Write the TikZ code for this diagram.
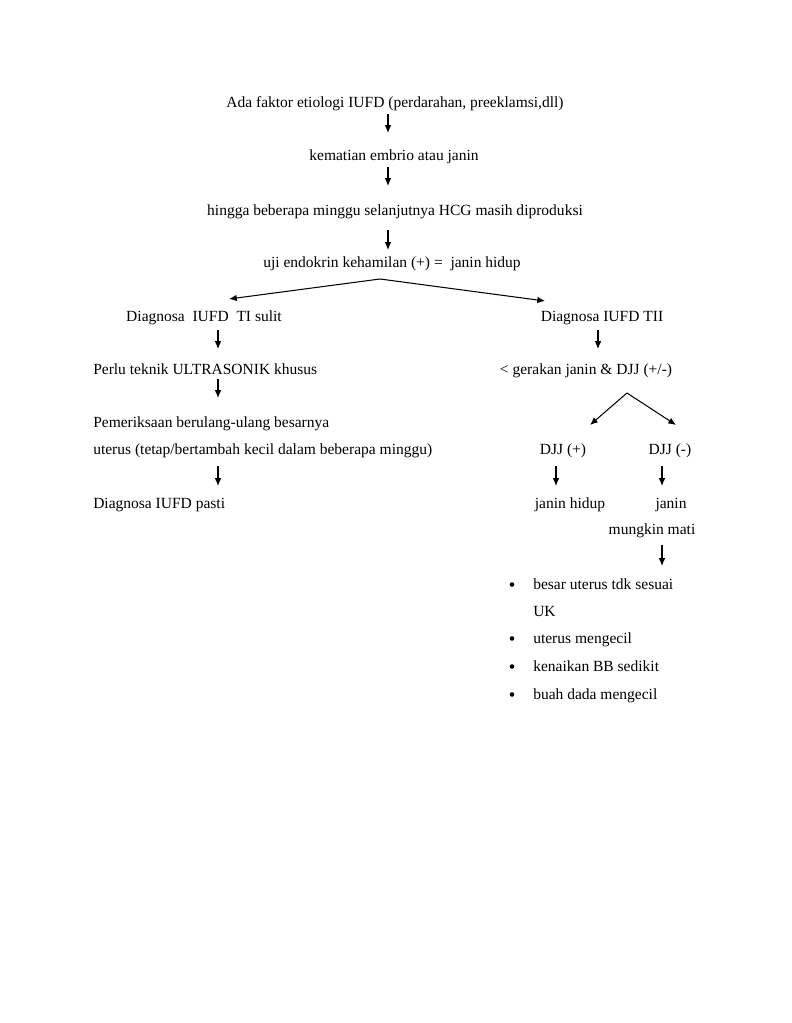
\documentclass[tikz,border=0pt]{standalone}
\usepackage{fontspec}
\setmainfont{Liberation Serif}
\usetikzlibrary{arrows.meta}
\begin{document}
\begin{tikzpicture}[x=0.7737pt,y=-0.7737pt,
  txt/.style={inner sep=0pt,anchor=base,font=\fontsize{12}{14}\selectfont},
  ltxt/.style={txt,anchor=base west},
  arr/.style={-{Latex[length=6pt,width=5pt]},line width=0.8pt}]
\useasboundingbox (0,0) rectangle (791,1023);
% main trunk
\node[txt] (t1) at (395,107.5) {Ada faktor etiologi IUFD (perdarahan, preeklamsi,dll)};
\node[txt] (t2) at (394,160.5) {kematian embrio atau janin};
\node[txt] (t3) at (395,215.5) {hingga beberapa minggu selanjutnya HCG masih diproduksi};
\node[txt] (t4) at (392,267.5) {uji endokrin kehamilan (+) =\ \ janin hidup};
\coordinate (a1s) at (388,114); \coordinate (a1e) at (388,133);
\coordinate (a2s) at (388,167); \coordinate (a2e) at (388,186);
\coordinate (a3s) at (388,230); \coordinate (a3e) at (388,250);
\draw[arr] (a1s) -- (a1e);
\draw[arr] (a2s) -- (a2e);
\draw[arr] (a3s) -- (a3e);
% split
\coordinate (apex) at (380,279);
\coordinate (bl) at (229,299);
\coordinate (br) at (545,301);
\draw[arr] (apex) -- (bl);
\draw[arr] (apex) -- (br);
% left branch
\node[txt] (l1) at (204,321.5) {Diagnosa\ \ IUFD\ \ TI sulit};
\node[ltxt] (l2) at (93,374.5) {Perlu teknik ULTRASONIK khusus};
\node[ltxt] (l3) at (93,427.5) {Pemeriksaan berulang-ulang besarnya};
\node[ltxt] (l4) at (93,454.5) {uterus (tetap/bertambah kecil dalam beberapa minggu)};
\node[ltxt] (l5) at (93,508.5) {Diagnosa IUFD pasti};
\coordinate (la1s) at (218,330); \coordinate (la1e) at (218,349);
\coordinate (la2s) at (218,379); \coordinate (la2e) at (218,398);
\coordinate (la3s) at (218,466); \coordinate (la3e) at (218,486);
\draw[arr] (la1s) -- (la1e);
\draw[arr] (la2s) -- (la2e);
\draw[arr] (la3s) -- (la3e);
% right branch
\node[txt] (r1) at (602,321.5) {Diagnosa IUFD TII};
\node[txt] (r2) at (586,374.5) {< gerakan janin \& DJJ (+/-)};
\coordinate (ra1s) at (598,330); \coordinate (ra1e) at (598,349);
\draw[arr] (ra1s) -- (ra1e);
\coordinate (apex2) at (627,393);
\coordinate (b2l) at (590,425);
\coordinate (b2r) at (676,425);
\draw[arr] (apex2) -- (b2l);
\draw[arr] (apex2) -- (b2r);
\node[txt] (r3) at (563,454.5) {DJJ (+)};
\node[txt] (r4) at (670,454.5) {DJJ (-)};
\coordinate (ra2s) at (556,466); \coordinate (ra2e) at (556,486);
\coordinate (ra3s) at (662,466); \coordinate (ra3e) at (662,486);
\draw[arr] (ra2s) -- (ra2e);
\draw[arr] (ra3s) -- (ra3e);
\node[txt] (r5) at (570,508.5) {janin hidup};
\node[txt] (r6) at (671,508.5) {janin};
\node[txt] (r7) at (652,534.5) {mungkin mati};
\coordinate (ra4s) at (662,545); \coordinate (ra4e) at (662,566);
\draw[arr] (ra4s) -- (ra4e);
% bullet list
\foreach \yy/\tt/\bb in {589.5/besar uterus tdk sesuai/1,616.5/UK/0,643.5/uterus mengecil/1,671.5/kenaikan BB sedikit/1,699.5/buah dada mengecil/1}{
  \node[ltxt] at (533,\yy) {\tt};
  \ifnum\bb=1 \fill (512,\yy-5) circle (2.3); \fi
}
\end{tikzpicture}
\end{document}
